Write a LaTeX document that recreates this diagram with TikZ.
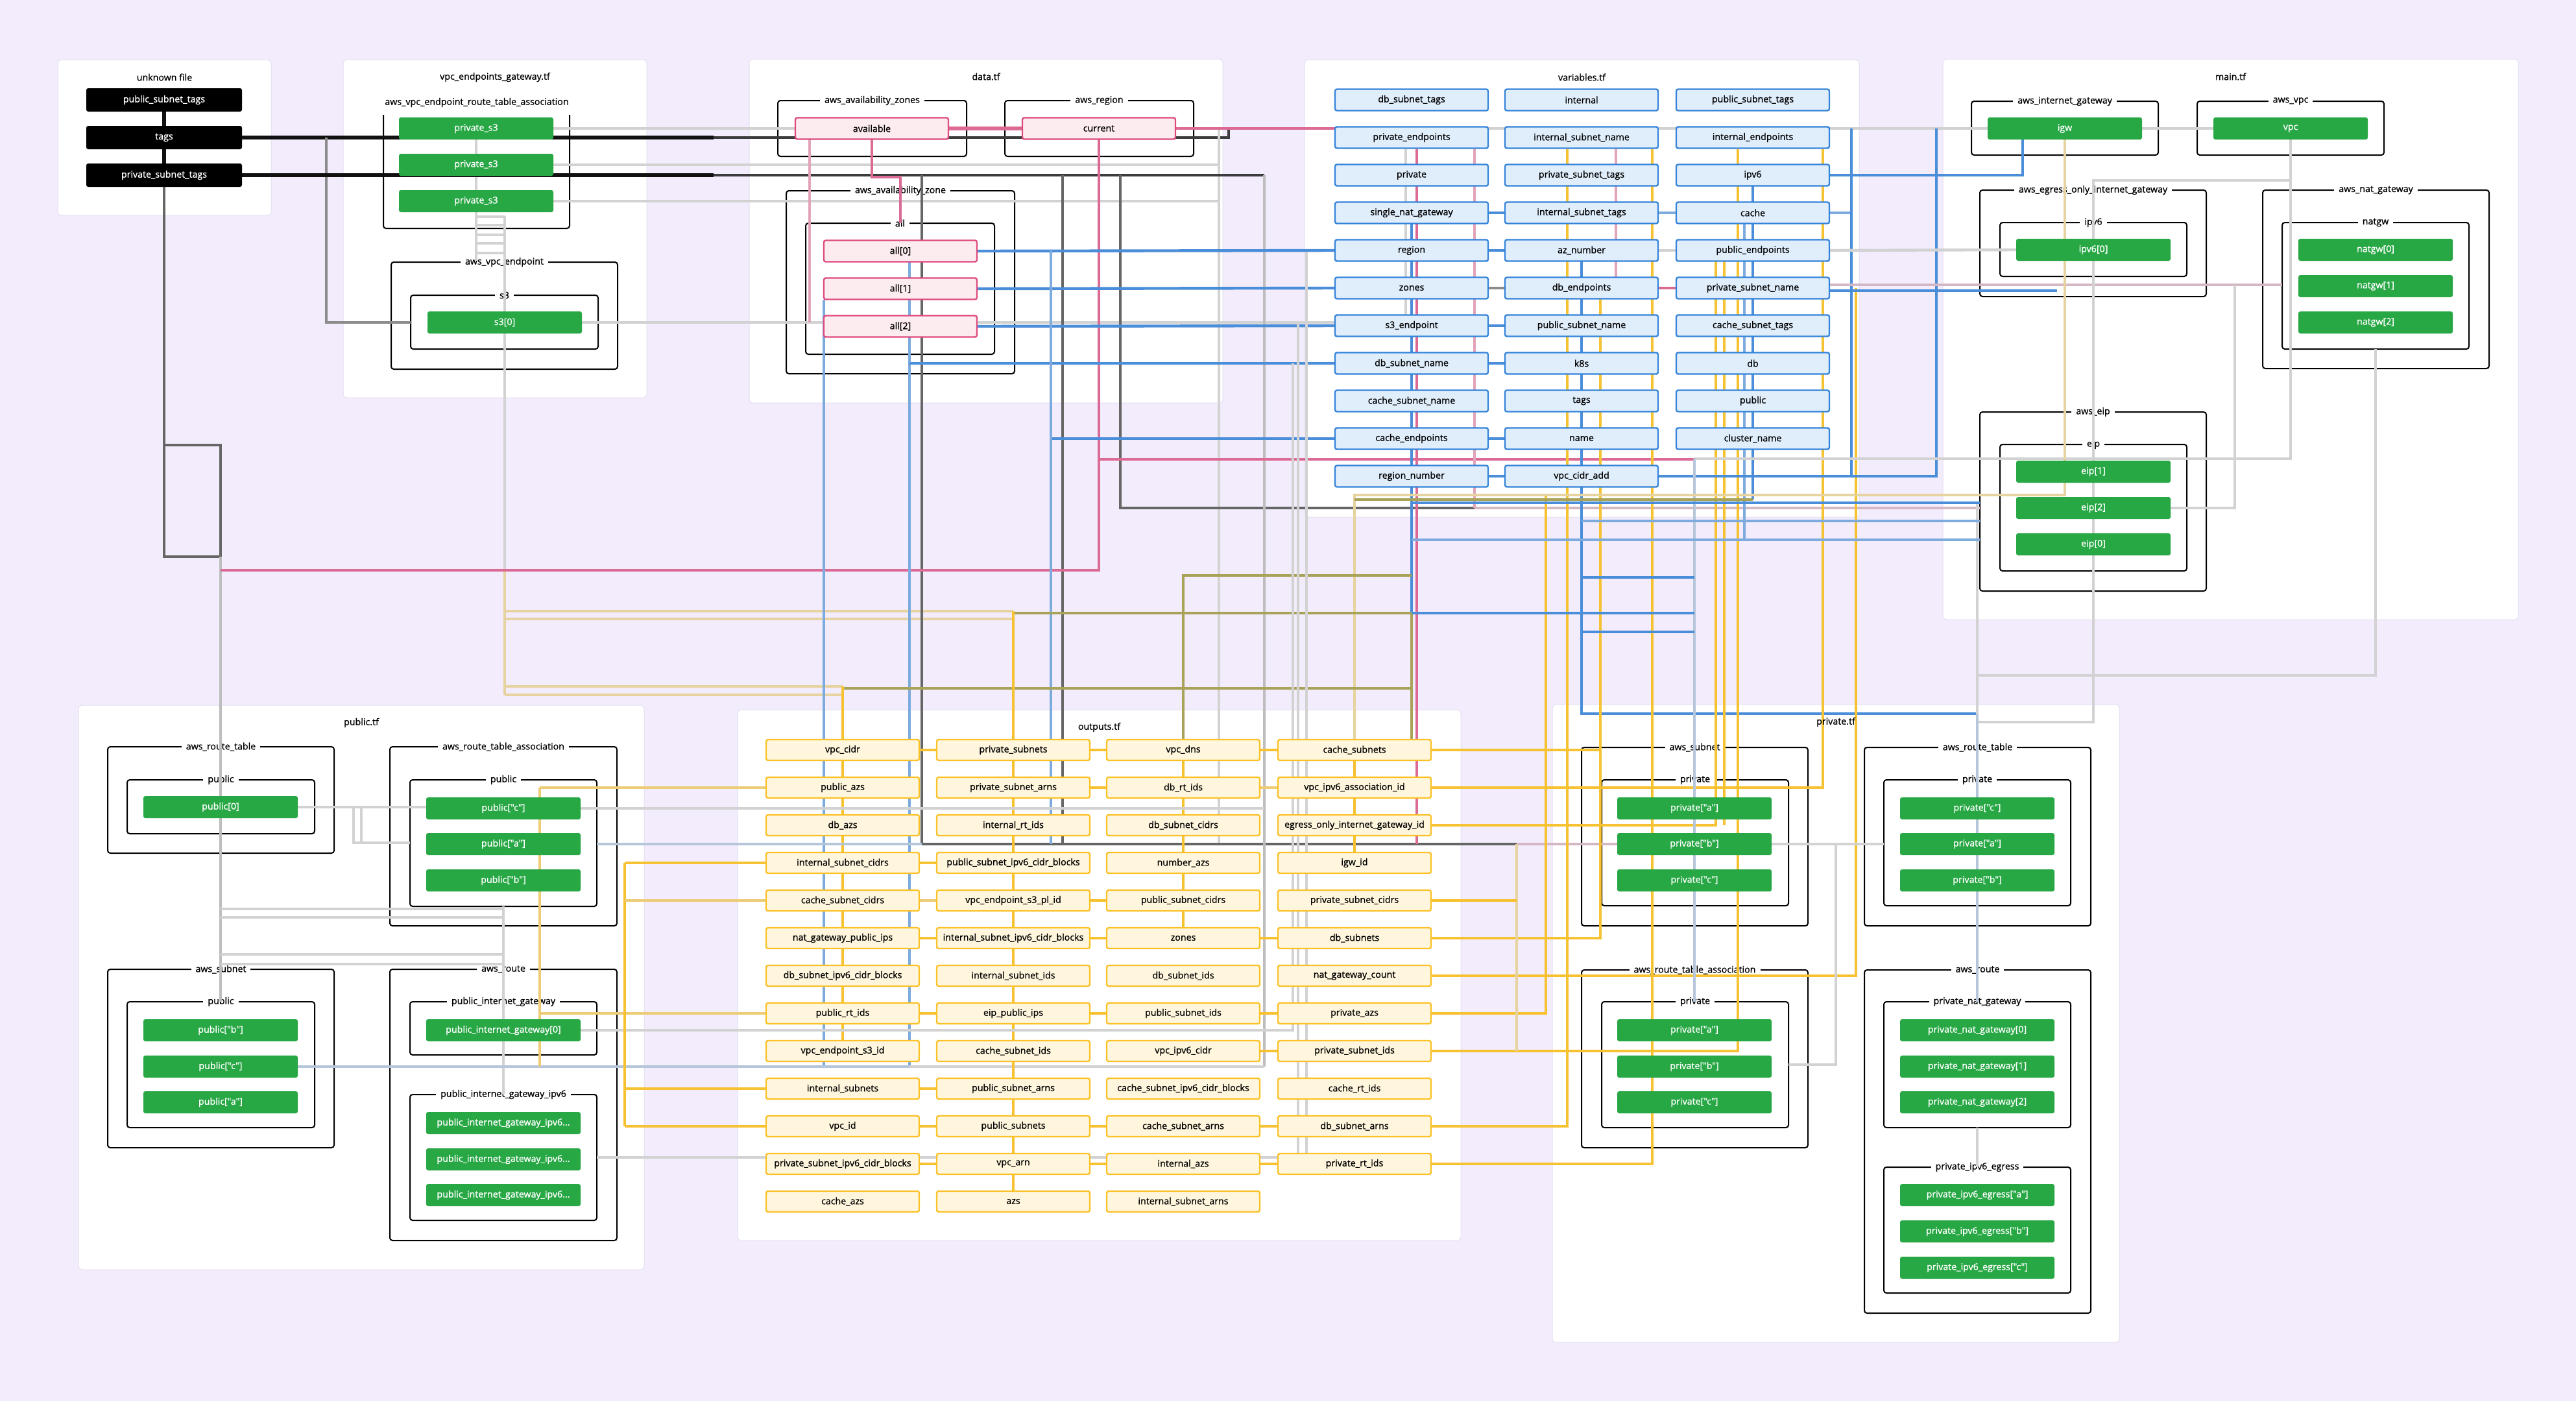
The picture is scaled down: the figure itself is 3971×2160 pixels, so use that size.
\documentclass[tikz,border=0pt]{standalone}
\usepackage{fontspec}
\setmainfont{Open Sans}
\newfontfamily\nf{Open Sans}[FakeBold=1.1]
\pgfdeclarelayer{bg}\pgfdeclarelayer{frames}\pgfdeclarelayer{edges}
\pgfsetlayers{bg,frames,edges,main}
\definecolor{lav}{HTML}{F2ECFD}
\definecolor{panelb}{HTML}{E4DFF0}
\definecolor{gfill}{HTML}{28A745}
\definecolor{pkfill}{HTML}{FDECEF}
\definecolor{pkdraw}{HTML}{DE4A7E}
\definecolor{blfill}{HTML}{E0EEFC}
\definecolor{bldraw}{HTML}{3584DA}
\definecolor{ylfill}{HTML}{FFF6DD}
\definecolor{yldraw}{HTML}{FBC126}
\definecolor{Lg}{HTML}{D2D2D2}
\definecolor{Lg2}{HTML}{BDBDBD}
\definecolor{Lg3}{HTML}{8C8C8C}
\definecolor{Lk}{HTML}{111111}
\definecolor{Lk2}{HTML}{666666}
\definecolor{Lk3}{HTML}{3C3C3C}
\definecolor{Lp}{HTML}{DB6B95}
\definecolor{Llp}{HTML}{E2A4BB}
\definecolor{Lpg}{HTML}{D4B7C4}
\definecolor{Lb}{HTML}{4A8DD8}
\definecolor{Llb}{HTML}{7EABDD}
\definecolor{Lbg}{HTML}{B6C6DA}
\definecolor{Ly}{HTML}{F6C232}
\definecolor{Ly2}{HTML}{EDCC78}
\definecolor{Lly}{HTML}{E6D3A0}
\definecolor{Lo}{HTML}{A9A35A}
\newcommand\mypanel[6]{%
  \begin{pgfonlayer}{bg}
  \filldraw[fill=white,draw=panelb,line width=0.5pt,rounded corners=3pt] (#2,#3) rectangle (#4,#5);
  \end{pgfonlayer}
  \node[ptitle] (#1) at ({(#2+#4)/2},{#3+27}) {#6};}
\newcommand\mygrp[6]{%
  \begin{pgfonlayer}{frames}
  \draw[gframe] (#2,#3) rectangle (#4,#5);
  \node[glabel] (#1-l) at ({(#2+#4)/2},#3) {#6};
  \end{pgfonlayer}}
\begin{document}
\begin{tikzpicture}[x=0.5pt,y=-0.5pt,
  font=\nf\fontsize{7.1}{8.5}\selectfont,
  ptitle/.style={inner sep=1pt},
  gframe/.style={draw=black,line width=1pt,rounded corners=2pt},
  glabel/.style={fill=white,inner xsep=3.5pt,inner ysep=1pt},
  base/.style={rectangle,rounded corners=1.5pt,minimum width=119pt,minimum height=17pt,inner sep=0pt,outer sep=0pt},
  unode/.style={base,fill=black,text=white,minimum width=120pt,minimum height=18pt},
  gnode/.style={base,fill=gfill,text=white},
  pnode/.style={base,fill=pkfill,draw=pkdraw,line width=1.2pt,minimum width=118pt,minimum height=16.5pt},
  vnode/.style={base,fill=blfill,draw=bldraw,line width=1.2pt,minimum width=118pt,minimum height=16.5pt},
  onode/.style={base,fill=ylfill,draw=yldraw,line width=1.2pt,minimum width=118pt,minimum height=16pt},
  cg/.style={draw=Lg,line width=2.2pt},
  cg2/.style={draw=Lg2,line width=2.2pt},
  cg3/.style={draw=Lg3,line width=2.2pt},
  ck/.style={draw=Lk,line width=2.6pt},
  ck3/.style={draw=Lk3,line width=2.4pt},
  ck2/.style={draw=Lk2,line width=2.2pt},
  cp/.style={draw=Lp,line width=2.2pt},
  clp/.style={draw=Llp,line width=2.2pt},
  cpg/.style={draw=Lpg,line width=2.2pt},
  cb/.style={draw=Lb,line width=2.2pt},
  clb/.style={draw=Llb,line width=2.2pt},
  cbg/.style={draw=Lbg,line width=2.2pt},
  cy/.style={draw=Ly,line width=2.2pt},
  cy2/.style={draw=Ly2,line width=2.2pt},
  cly/.style={draw=Lly,line width=2.2pt},
  co/.style={draw=Lo,line width=2.2pt}]
\begin{pgfonlayer}{bg}
\fill[lav] (0,0) rectangle (3971,2160);
\end{pgfonlayer}
\useasboundingbox (0,0) rectangle (3971,2160);
% panels
\mypanel{tunk}{89}{92}{418}{332}{unknown file}
\mypanel{tvpce}{529}{92}{997}{613}{vpc\_endpoints\_gateway.tf}
\mypanel{tdata}{1155}{91}{1885}{621}{data.tf}
\mypanel{tvars}{2011}{92}{2866}{797}{variables.tf}
\mypanel{tmain}{2995}{91}{3882}{955}{main.tf}
\mypanel{tpub}{121}{1087}{993}{1957}{public.tf}
\mypanel{tout}{1137}{1094}{2252}{1912}{outputs.tf}
\mypanel{tpriv}{2393}{1086}{3267}{2069}{private.tf}
% groups
\begin{pgfonlayer}{frames}
\draw[gframe] (591,177) -- (591,352) -- (878,352) -- (878,177);
\node[glabel] (grta-l) at (735,158) {aws\_vpc\_endpoint\_route\_table\_association};
\end{pgfonlayer}
\mygrp{gvpe}{603}{404}{952}{569}{aws\_vpc\_endpoint}
\mygrp{gs3}{633}{455}{922}{538}{s3}
\mygrp{gaz}{1199}{155}{1490}{241}{aws\_availability\_zones}
\mygrp{greg}{1549}{155}{1840}{241}{aws\_region}
\mygrp{gazo}{1212}{294}{1564}{576}{aws\_availability\_zone}
\mygrp{gall}{1242}{344}{1533}{546}{all}
\mygrp{gigw}{3039}{156}{3327}{239}{aws\_internet\_gateway}
\mygrp{gvpc}{3387}{156}{3675}{239}{aws\_vpc}
\mygrp{gego}{3052}{293}{3401}{457}{aws\_egress\_only\_internet\_gateway}
\mygrp{gipv6}{3083}{343}{3371}{426}{ipv6}
\mygrp{gnat}{3488}{293}{3837}{568}{aws\_nat\_gateway}
\mygrp{gnatgw}{3518}{343}{3806}{538}{natgw}
\mygrp{geip}{3052}{635}{3401}{911}{aws\_eip}
\mygrp{geipi}{3083}{685}{3371}{880}{eip}
\mygrp{gprt}{166}{1151}{515}{1315}{aws\_route\_table}
\mygrp{gprtp}{196}{1202}{485}{1285}{public}
\mygrp{gpra}{601}{1151}{951}{1427}{aws\_route\_table\_association}
\mygrp{gprap}{632}{1202}{920}{1397}{public}
\mygrp{gpsn}{166}{1494}{515}{1769}{aws\_subnet}
\mygrp{gpsnp}{196}{1544}{485}{1738}{public}
\mygrp{gpr}{601}{1494}{951}{1912}{aws\_route}
\mygrp{gpig}{632}{1544}{920}{1626}{public\_internet\_gateway}
\mygrp{gpig6}{632}{1687}{920}{1881}{public\_internet\_gateway\_ipv6}
\mygrp{gqsn}{2438}{1152}{2787}{1427}{aws\_subnet}
\mygrp{gqsnp}{2469}{1202}{2757}{1396}{private}
\mygrp{gqra}{2438}{1495}{2787}{1769}{aws\_route\_table\_association}
\mygrp{gqrap}{2469}{1544}{2757}{1738}{private}
\mygrp{gqrt}{2874}{1152}{3223}{1427}{aws\_route\_table}
\mygrp{gqrtp}{2904}{1202}{3192}{1396}{private}
\mygrp{gqr}{2874}{1495}{3223}{2024}{aws\_route}
\mygrp{gqnat}{2904}{1544}{3192}{1738}{private\_nat\_gateway}
\mygrp{gqv6}{2904}{1799}{3192}{1993}{private\_ipv6\_egress}
% nodes: unknown file
\node[unode] (ust) at (253,154) {public\_subnet\_tags};
\node[unode] (utg) at (253,212) {tags};
\node[unode] (upt) at (253,270) {private\_subnet\_tags};
% vpc endpoints
\node[gnode] (ps1) at (734,198) {private\_s3};
\node[gnode] (ps2) at (734,254) {private\_s3};
\node[gnode] (ps3) at (734,310) {private\_s3};
\node[gnode] (s3z) at (778,497) {s3[0]};
% data
\node[pnode] (avail) at (1344,198) {available};
\node[pnode] (curr) at (1694,198) {current};
\node[pnode] (all0) at (1388,387) {all[0]};
\node[pnode] (all1) at (1388,445) {all[1]};
\node[pnode] (all2) at (1388,503) {all[2]};
% variables
\foreach \t [count=\i] in {db\_subnet\_tags,private\_endpoints,private,single\_nat\_gateway,region,zones,s3\_endpoint,db\_subnet\_name,cache\_subnet\_name,cache\_endpoints,region\_number}
  \node[vnode] (va\i) at (2176,{154+58*(\i-1)}) {\t};
\foreach \t [count=\i] in {internal,internal\_subnet\_name,private\_subnet\_tags,internal\_subnet\_tags,az\_number,db\_endpoints,public\_subnet\_name,k8s,tags,name,vpc\_cidr\_add}
  \node[vnode] (vb\i) at (2438,{154+58*(\i-1)}) {\t};
\foreach \t [count=\i] in {public\_subnet\_tags,internal\_endpoints,ipv6,cache,public\_endpoints,private\_subnet\_name,cache\_subnet\_tags,db,public,cluster\_name}
  \node[vnode] (vc\i) at (2702,{154+58*(\i-1)}) {\t};
% main
\node[gnode] (igw) at (3183,198) {igw};
\node[gnode] (vpc) at (3531,198) {vpc};
\node[gnode] (ipv6z) at (3227,385) {ipv6[0]};
\node[gnode] (ngw0) at (3662,385) {natgw[0]};
\node[gnode] (ngw1) at (3662,441) {natgw[1]};
\node[gnode] (ngw2) at (3662,497) {natgw[2]};
\node[gnode] (eip1) at (3227,727) {eip[1]};
\node[gnode] (eip2) at (3227,783) {eip[2]};
\node[gnode] (eip0) at (3227,839) {eip[0]};
% public
\node[gnode] (prt0) at (340,1244) {public[0]};
\node[gnode] (pac) at (776,1246) {public["c"]};
\node[gnode] (paa) at (776,1301) {public["a"]};
\node[gnode] (pab) at (776,1357) {public["b"]};
\node[gnode] (psb) at (340,1588) {public["b"]};
\node[gnode] (psc) at (340,1644) {public["c"]};
\node[gnode] (psa) at (340,1699) {public["a"]};
\node[gnode] (pig0) at (776,1588) {public\_internet\_gateway[0]};
\node[gnode] (pigv1) at (776,1731) {public\_internet\_gateway\_ipv6...};
\node[gnode] (pigv2) at (776,1787) {public\_internet\_gateway\_ipv6...};
\node[gnode] (pigv3) at (776,1842) {public\_internet\_gateway\_ipv6...};
% private
\node[gnode] (prsa) at (2612,1246) {private["a"]};
\node[gnode] (prsb) at (2612,1301) {private["b"]};
\node[gnode] (prsc) at (2612,1357) {private["c"]};
\node[gnode] (praa) at (2612,1588) {private["a"]};
\node[gnode] (prab) at (2612,1644) {private["b"]};
\node[gnode] (prac) at (2612,1699) {private["c"]};
\node[gnode] (prtc) at (3048,1246) {private["c"]};
\node[gnode] (prta) at (3048,1301) {private["a"]};
\node[gnode] (prtb) at (3048,1357) {private["b"]};
\node[gnode] (pnat0) at (3048,1588) {private\_nat\_gateway[0]};
\node[gnode] (pnat1) at (3048,1644) {private\_nat\_gateway[1]};
\node[gnode] (pnat2) at (3048,1699) {private\_nat\_gateway[2]};
\node[gnode] (pv6a) at (3048,1842) {private\_ipv6\_egress["a"]};
\node[gnode] (pv6b) at (3048,1898) {private\_ipv6\_egress["b"]};
\node[gnode] (pv6c) at (3048,1954) {private\_ipv6\_egress["c"]};
% outputs
\foreach \t [count=\i] in {vpc\_cidr,public\_azs,db\_azs,internal\_subnet\_cidrs,cache\_subnet\_cidrs,nat\_gateway\_public\_ips,db\_subnet\_ipv6\_cidr\_blocks,public\_rt\_ids,vpc\_endpoint\_s3\_id,internal\_subnets,vpc\_id,private\_subnet\_ipv6\_cidr\_blocks,cache\_azs}
  \node[onode] (oa\i) at (1299,{1156+58*(\i-1)}) {\t};
\foreach \t [count=\i] in {private\_subnets,private\_subnet\_arns,internal\_rt\_ids,public\_subnet\_ipv6\_cidr\_blocks,vpc\_endpoint\_s3\_pl\_id,internal\_subnet\_ipv6\_cidr\_blocks,internal\_subnet\_ids,eip\_public\_ips,cache\_subnet\_ids,public\_subnet\_arns,public\_subnets,vpc\_arn,azs}
  \node[onode] (ob\i) at (1562,{1156+58*(\i-1)}) {\t};
\foreach \t [count=\i] in {vpc\_dns,db\_rt\_ids,db\_subnet\_cidrs,number\_azs,public\_subnet\_cidrs,zones,db\_subnet\_ids,public\_subnet\_ids,vpc\_ipv6\_cidr,cache\_subnet\_ipv6\_cidr\_blocks,cache\_subnet\_arns,internal\_azs,internal\_subnet\_arns}
  \node[onode] (oc\i) at (1824,{1156+58*(\i-1)}) {\t};
\foreach \t [count=\i] in {cache\_subnets,vpc\_ipv6\_association\_id,egress\_only\_internet\_gateway\_id,igw\_id,private\_subnet\_cidrs,db\_subnets,nat\_gateway\_count,private\_azs,private\_subnet\_ids,cache\_rt\_ids,db\_subnet\_arns,private\_rt\_ids}
  \node[onode] (od\i) at (2088,{1156+58*(\i-1)}) {\t};
% ================= connectors
\begin{pgfonlayer}{edges}
% unknown file
\draw[ck] (ust.south) -- (utg.north) (utg.south) -- (upt.north);
\draw[ck2] (upt.south) -- (253,858) -- (340,858);
\draw[ck2] (253,686) -- (340,686) -- (340,858);
\draw[cg2] (340,858) -- (prt0.north);
\draw[cg2] (prt0.south) -- (340,1544);
\draw[cg] (340,1401) -- (776,1401) (340,1414) -- (776,1414) (340,1471) -- (776,1471) (340,1486) -- (776,1486);
\draw[cg] (776,1397) -- (776,1687);
% gray from s3 / tags
\draw[cg] (1879,198) -- (igw.west);
\draw[cg] (igw.east) -- (vpc.west);
\draw[ck] (utg.east) -- (1100,212);
\draw[ck3] (1100,212) -- (1894,212) -- (1894,198);
\draw[cg3] (503,212) -- (503,497) -- (633,497);
\draw[cg] (ps1.east) -- (avail.west);
\draw[cg] (ps2.east) -- (1879,254);
\draw[cg] (ps3.east) -- (1879,310);
\draw[cg] (s3z.east) -- (va7.west |- s3z.east);
\draw[cg] (1879,198) -- (1879,1301);
\draw[cg] (ps1.south) -- (ps2.north) (ps2.south) -- (ps3.north) (ps3.south) -- (734,402);
\draw[cg] (778,333) -- (778,879);
\draw[cg] (734,334) -- (778,334) (734,347) -- (778,347) (734,362) -- (778,362) (734,375) -- (778,375) (734,390) -- (778,390);
\draw[cly] (778,879) -- (778,1071);
\draw[cly] (778,942) -- (1562,942) (778,954) -- (1562,954) (778,1058) -- (1299,1058) (778,1071) -- (1299,1071);
% private_subnet_tags
\draw[ck] (upt.east) -- (1100,270);
\draw[ck3] (1100,270) -- (1949,270);
\draw[ck2] (1421,270) -- (1421,1301) -- (2338,1301);
\draw[ck2] (1638,270) -- (1638,1301);
\draw[cpg] (2338,1301) -- (prsb.west);
\draw[ck2] (1727,270) -- (1727,783) -- (2273,783);
\draw[cpg] (2273,783) -- (3052,783);
\draw[cg2] (1949,270) -- (1949,1644);
% pink
\draw[cp] (curr.south) -- (1694,879) -- (340,879);
\draw[cp] (1694,708) -- (2612,708);
\draw[cp,line width=3pt] (avail.east) -- (curr.west);
\draw[cp] (curr.east) -- (va2.west |- curr.east);
\draw[cp] (avail.south) -- (1344,273) -- (1388,273) -- (1388,344);
\draw[clp] (1248,215) -- (1248,497);
% blue from data
\draw[cb] (all0.east) -- (va5.west);
\draw[cb] (all1.east) -- (va6.west);
\draw[cb] (all2.east) -- (va7.west);
\draw[clb] (1402,404) -- (1402,1644);
\draw[clb] (1270,462) -- (1270,1644);
\draw[cbg] (psc.east) -- (1402,1644);
\draw[cg] (1402,1644) -- (1949,1644);
\draw[cb] (va8.west) -- (1402,560);
\draw[cb] (va10.west) -- (1620,676);
\draw[clb] (1620,386) -- (1620,1301);
% variables internal
\draw[cg] (2167,230) -- (2167,485);
\draw[cp] (2184,230) -- (2184,1301);
\draw[clp] (2273,230) -- (2273,783);
\draw[clp] (2491,230) -- (2491,427);
\draw[cb] (va4.south) -- (2176,945);
\draw[co] (2176,945) -- (2176,1139);
\draw[cb] (vb5.south) -- (2438,1100) -- (3048,1100);
\draw[cy] (2416,230) -- (2416,1736) -- (od11.east);
\draw[cy] (2547,230) -- (2547,1794) -- (od12.east);
\draw[cy] (2467,461) -- (2467,1446) -- (od6.east);
\draw[cy] (od1.east) -- (2467,1156);
\draw[cy] (2679,230) -- (2679,1620) -- (od9.east);
\draw[cy] (2810,230) -- (2810,1214) -- (od2.east);
\draw[cy] (2645,403) -- (2645,1272) -- (od3.east);
\draw[cy] (2658,403) -- (2658,1272);
\draw[cy] (2861,444) -- (2861,1504) -- (od7.east);
\draw[cy] (2383,763) -- (2383,1562) -- (od8.east);
\draw[cly] (2338,1301) -- (2338,1620);
\draw[cy] (od5.east) -- (2338,1388);
\draw[cb] (vc3.south) -- (2702,770);
\draw[clb] (2689,345) -- (2689,832);
\draw[cb] (va4.east) -- (vb4.west);
\draw[clb] (vb4.east) -- (vc4.west);
\draw[cb] (va5.east) -- (vb5.west);
\draw[cg] (vb5.east) -- (vc5.west);
\draw[cg3] (va6.east) -- (vb6.west);
\draw[cp] (vb6.east) -- (vc6.west);
\draw[cb] (va7.east) -- (vb7.west);
\draw[cb] (va8.east) -- (vb8.west);
\draw[cb] (va10.east) -- (vb10.west);
\draw[cb] (va11.east) -- (vb11.west);
\draw[cb] (vc3.east) -- (3118,270) -- (3118,215);
\draw[clb] (vc4.east) -- (2854,328);
\draw[cb] (2854,198) -- (2854,734);
\draw[cb] (vb11.east) -- (2985,734) -- (2985,198);
\draw[cg] (vc5.east) -- (ipv6z.west);
\draw[cb] (2821,448) -- (3171,448);
\draw[cpg] (2821,439) -- (3518,439);
% main
\draw[cg] (vpc.south) -- (3531,707) -- (2612,707);
\draw[cg] (3531,278) -- (3227,278) -- (ipv6z.north);
\draw[cbg] (2612,707) -- (2612,1544);
\draw[cg] (ipv6z.south) -- (3227,1113) -- (3048,1113);
\draw[cg] (3662,538) -- (3662,1041) -- (3048,1041);
\draw[cg] (3048,774) -- (3048,1100);
\draw[cbg] (3048,1100) -- (3048,1544);
\draw[cg] (3048,1738) -- (3048,1799);
\draw[cg] (eip2.east) -- (3445,783) -- (3445,439);
\draw[cly] (igw.south) -- (3183,763) -- (2088,763) -- (od1.north);
\draw[co] (2702,770) -- (2088,770);
\draw[cb] (2176,775) -- (3052,775);
\draw[clb] (2176,832) -- (3052,832);
\draw[clb] (2438,803) -- (3052,803);
\draw[cb] (2438,890) -- (2612,890) (2438,974) -- (2612,974);
\draw[cb] (2176,945) -- (2612,945);
% olive into outputs
\draw[co] (2176,887) -- (1824,887) -- (oc1.north);
\draw[co] (2176,945) -- (1562,945);
\draw[co] (2176,1061) -- (1299,1061);
\draw[cy] (1562,942) -- (ob1.north);
\draw[cy] (1299,1058) -- (oa1.north);
% outputs chains
\draw[cy] (oa1.south) -- (oa9.north);
\draw[cy] (ob1.south) -- (ob13.north);
\draw[cy] (oc1.south) -- (oc6.north);
\draw[cy] (od1.south) -- (od4.north);
% outputs horizontals
\draw[cy] (oa1.east) -- (ob1.west) (ob1.east) -- (oc1.west) (oc1.east) -- (od1.west);
\draw[cy] (ob2.east) -- (oc2.west);
\draw[cy2] (oc2.east) -- (od2.west);
\draw[cy] (oa4.east) -- (ob4.west);
\draw[cy2] (oa5.east) -- (ob5.west);
\draw[cy] (ob5.east) -- (oc5.west);
\draw[cy] (oa6.east) -- (ob6.west) (ob6.east) -- (oc6.west) (oc6.east) -- (od6.west);
\draw[cy] (oa8.east) -- (ob8.west) (ob8.east) -- (oc8.west) (oc8.east) -- (od8.west);
\draw[cy] (oc9.east) -- (od9.west);
\draw[cy] (oa10.east) -- (ob10.west);
\draw[cy] (oa11.east) -- (ob11.west) (ob11.east) -- (oc11.west) (oc11.east) -- (od11.west);
\draw[cy] (oa12.east) -- (ob12.west) (ob12.east) -- (oc12.west) (oc12.east) -- (od12.west);
% public.tf
\draw[cg] (prt0.east) -- (pac.west |- prt0.east);
\draw[cg] (545,1244) -- (545,1299) -- (632,1299) (557,1244) -- (557,1299);
\draw[cbg] (920,1301) -- (1421,1301);
\draw[cg] (pac.east) -- (1949,1246);
\draw[cg] (pig0.east) -- (1993,1588) -- (1993,560);
\draw[cg] (920,1784) -- (2014,1784) -- (2014,388);
\draw[cg] (2001,495) -- (2001,1784);
\draw[cy2] (832,1214) -- (oa2.west);
\draw[cy2] (832,1214) -- (832,1644);
\draw[cy2] (832,1562) -- (oa8.west);
\draw[cy] (963,1330) -- (963,1736);
\draw[cy] (963,1330) -- (oa4.west);
\draw[cy2] (963,1388) -- (oa5.west);
\draw[cy] (963,1678) -- (oa10.west);
\draw[cy] (963,1736) -- (oa11.west);
% private.tf
\draw[cg] (prsb.east) -- (2904,1301);
\draw[cg] (2830,1301) -- (2830,1641) -- (2757,1641);
\end{pgfonlayer}
\end{tikzpicture}
\end{document}
